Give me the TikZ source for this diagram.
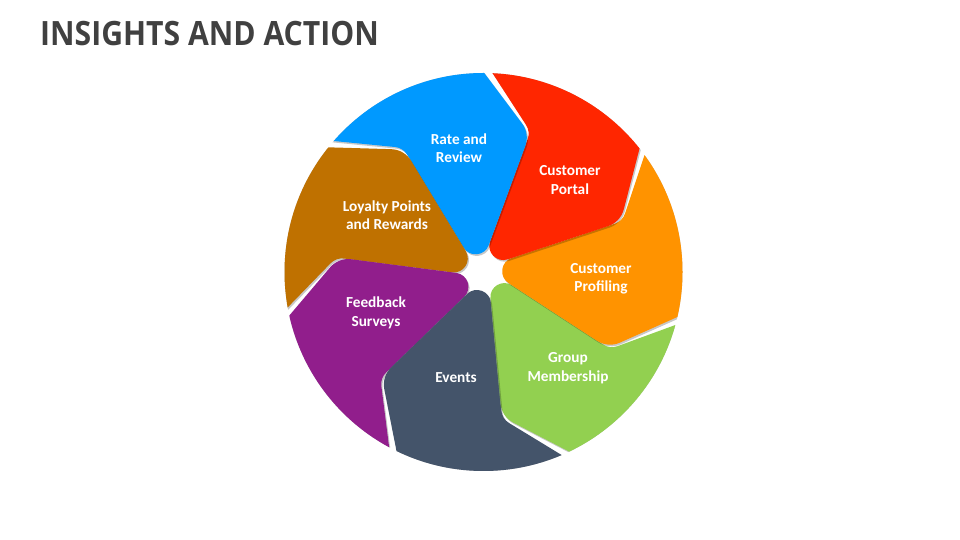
\documentclass[tikz,border=0pt]{standalone}
\usepackage{fontspec}
\setmainfont{Carlito}
\newfontfamily\titulofont[FakeStretch=0.9]{Open Sans}
\usetikzlibrary{calc}

\definecolor{azul}{RGB}{0,153,255}
\definecolor{rojo}{RGB}{255,38,0}
\definecolor{naranja}{RGB}{255,147,0}
\definecolor{verde}{RGB}{146,208,80}
\definecolor{pizarra}{RGB}{68,84,106}
\definecolor{morado}{RGB}{145,30,140}
\definecolor{marron}{RGB}{191,113,0}
\definecolor{gristitulo}{RGB}{64,64,64}

% contorno de un aspa, en el marco del aspa roja (centro en el origen);
% punta, codo y esquina redondeados a mano
\newcommand{\aspa}{(24.22,12.65) .. controls (13.11,8.97) and (2.60,19.83) .. (6.64,30.81)
    -- (44.14,132.89) .. controls (45.88,137.62) and (45.28,142.88) .. (42.54,147.11)
    -- (-13.7,233.8) -- (120,260) -- (167.4,167.3)
    -- (140.29,62.68) .. controls (138.23,54.74) and (132.34,48.46) .. (124.56,45.88)
    -- cycle}

\begin{document}
\begin{tikzpicture}[
    x=1pt, y=1pt,
    sombra/.style={fill=black, opacity=0.22},
    etiqueta/.style={
        text=white, align=center, inner sep=0pt,
        font=\bfseries\fontsize{15.3}{18.5}\selectfont
    },
    titulo/.style={
        anchor=base west, inner sep=0pt, text=gristitulo,
        font=\titulofont\bfseries\fontsize{33.5}{40}\selectfont
    },
]
    \useasboundingbox (0,0) rectangle (960,540);
    \coordinate (c) at (483.5,268);

    \node[titulo] (titulo) at (40,494) {INSIGHTS AND ACTION};

    % Aspas: cada una tapa a la siguiente en sentido horario
    \begin{scope}
        \clip (c) circle (199);
        \foreach \k/\col in {2/verde, 1/naranja, 0/rojo, 6/azul, 5/marron, 4/morado, 3/pizarra} {
            \fill[sombra, shift={($(c)+(1.2,-1.6)$)}, rotate=-51.43*\k] \aspa;
            \fill[\col, shift={(c)}, rotate=-51.43*\k] \aspa;
        }
        % la verde otra vez, solo encima de la pizarra
        \clip[shift={(c)}, rotate=-154.29] \aspa;
        \fill[sombra, shift={($(c)+(1.2,-1.6)$)}, rotate=-102.86] \aspa;
        \fill[verde, shift={(c)}, rotate=-102.86] \aspa;
    \end{scope}

    % Textos
    \node[etiqueta] (rate)     at (459,392) {Rate and\\Review};
    \node[etiqueta] (portal)   at (570,360) {Customer\\Portal};
    \node[etiqueta] (perfil)   at (601,261) {Customer\\Profiling};
    \node[etiqueta] (grupo)    at (568,172) {Group\\Membership};
    \node[etiqueta] (eventos)  at (456,162) {Events};
    \node[etiqueta] (encuesta) at (376,227) {Feedback\\Surveys};
    \node[etiqueta] (puntos)   at (387,325) {Loyalty Points\\and Rewards};

\end{tikzpicture}
\end{document}
